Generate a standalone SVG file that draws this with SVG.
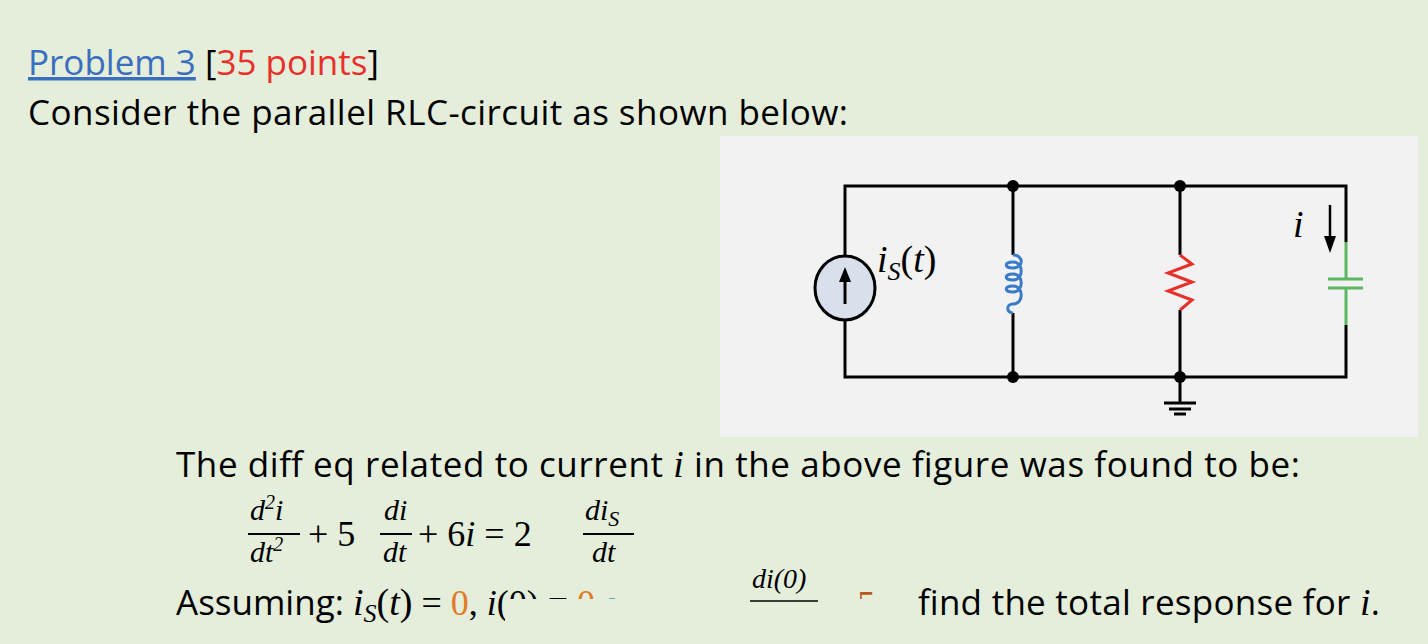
<svg xmlns="http://www.w3.org/2000/svg" width="1428" height="644" viewBox="0 0 1428 644">
<defs>
<style>
.t{font-family:"Open Sans","Liberation Sans",sans-serif;font-size:35px;fill:#000}
.m{font-family:"Liberation Serif",serif;font-style:italic;fill:#000}
.o{font-family:"Liberation Serif",serif;font-size:36px;fill:#000}
.w{stroke:#000;stroke-width:3;fill:none}
</style>
</defs>
<rect width="1428" height="644" fill="#e4eedb"/>
<text x="28" y="75" class="t"><tspan fill="#3a6fc0" text-decoration="underline">Problem 3</tspan> [<tspan fill="#e8302a">35 points</tspan>]</text>
<text x="28" y="125" class="t" textLength="820">Consider the parallel RLC-circuit as shown below:</text>
<rect x="720" y="136" width="698" height="301" fill="#f2f2f2"/>
<g id="connectors">
<path class="w" d="M845,256 V186 H1346 V242 M845,320 V377 H1346 V325 M1013,186 V255 M1013,313 V377 M1180,186 V255 M1180,310 V377 M1180,377 V403"/>
<path d="M1330,205 V240" stroke="#000" stroke-width="2.5"/>
<path d="M1324,236 L1336,236 L1330,253 Z" fill="#000"/>
</g>
<g id="junctions" fill="#000">
<circle cx="1013" cy="186" r="6"/><circle cx="1180" cy="186" r="6"/>
<circle cx="1013" cy="377" r="6"/><circle cx="1180" cy="377" r="6"/>
</g>
<g id="source">
<ellipse cx="845" cy="288" rx="30" ry="32" fill="#d9e0ec" stroke="#000" stroke-width="3"/>
<path d="M845,304 V276" stroke="#000" stroke-width="3"/>
<path d="M839,282 L845,267 L851,282 Z" fill="#000"/>
<text x="877" y="272" class="m" font-size="38">i<tspan font-size="26" dy="8">S</tspan><tspan dy="-8" font-style="normal">(</tspan>t<tspan font-style="normal">)</tspan></text>
</g>
<g id="inductor">
<path d="M1013,255 C1024,255 1024,268 1013,268 C1004,268 1004,262 1013,262 C1024,262 1024,280 1013,280 C1004,280 1004,274 1013,274 C1024,274 1024,292 1013,292 C1004,292 1004,286 1013,286 C1024,286 1024,304 1013,304 C1006,304 1006,312 1013,313" stroke="#3a7bc8" stroke-width="3" fill="none"/>
</g>
<g id="resistor">
<path d="M1180,255 L1192,264 L1168,273 L1192,282 L1168,291 L1192,300 L1180,310" stroke="#e8302a" stroke-width="3" fill="none"/>
</g>
<g id="capacitor" stroke="#5cb860" stroke-width="3">
<path d="M1346,242 V279 M1346,288 V325 M1328,279 H1363 M1328,288 H1363"/>
</g>
<g id="ground" stroke="#000" stroke-width="3">
<path d="M1164,403 H1196 M1169,409 H1191 M1174,414 H1186"/>
</g>
<text x="1293" y="237" class="m" font-size="38">i</text>
<text x="176" y="477" class="t" textLength="1124">The diff eq related to current <tspan class="m" font-size="38">i</tspan> in the above figure was found to be:</text>
<g id="equation">
<text x="250" y="520" class="m" font-size="30">d<tspan font-size="20" dy="-11">2</tspan><tspan dy="11">i</tspan></text>
<path d="M248,534 H300" stroke="#000" stroke-width="2"/>
<text x="250" y="562" class="m" font-size="30">dt<tspan font-size="20" dy="-11">2</tspan></text>
<text x="308" y="546" class="o">+ 5</text>
<text x="384" y="520" class="m" font-size="30">di</text>
<path d="M380,534 H412" stroke="#000" stroke-width="2"/>
<text x="383" y="562" class="m" font-size="30">dt</text>
<text x="418" y="546" class="o">+ 6<tspan font-style="italic">i</tspan> = 2</text>
<text x="585" y="520" class="m" font-size="30">di<tspan font-size="22" dy="6">S</tspan></text>
<path d="M583,534 H634" stroke="#000" stroke-width="2"/>
<text x="592" y="562" class="m" font-size="30">dt</text>
</g>
<text x="176" y="615" class="t">Assuming: <tspan class="m" font-size="38">i<tspan font-size="26" dy="7">S</tspan><tspan dy="-7" font-style="normal">(</tspan>t<tspan font-style="normal">)</tspan></tspan><tspan class="o" font-size="38"> = <tspan fill="#e07b28">0</tspan>, <tspan font-style="italic">i</tspan>(0) = <tspan fill="#e07b28">0</tspan> <tspan fill="#4aa3e0" font-size="26">&amp;</tspan></tspan></text>
<text x="828" y="616" class="o" font-size="38">= <tspan fill="#b85a20">5</tspan></text>
<rect x="505" y="599" width="405" height="45" fill="#e4eedb"/>
<text x="752" y="588" class="m" font-size="28">di(0)</text>
<path d="M750,601 H818" stroke="#000" stroke-width="1.5"/>
<text x="918" y="615" class="t" textLength="462">find the total response for <tspan class="m" font-size="38">i</tspan>.</text>
</svg>
